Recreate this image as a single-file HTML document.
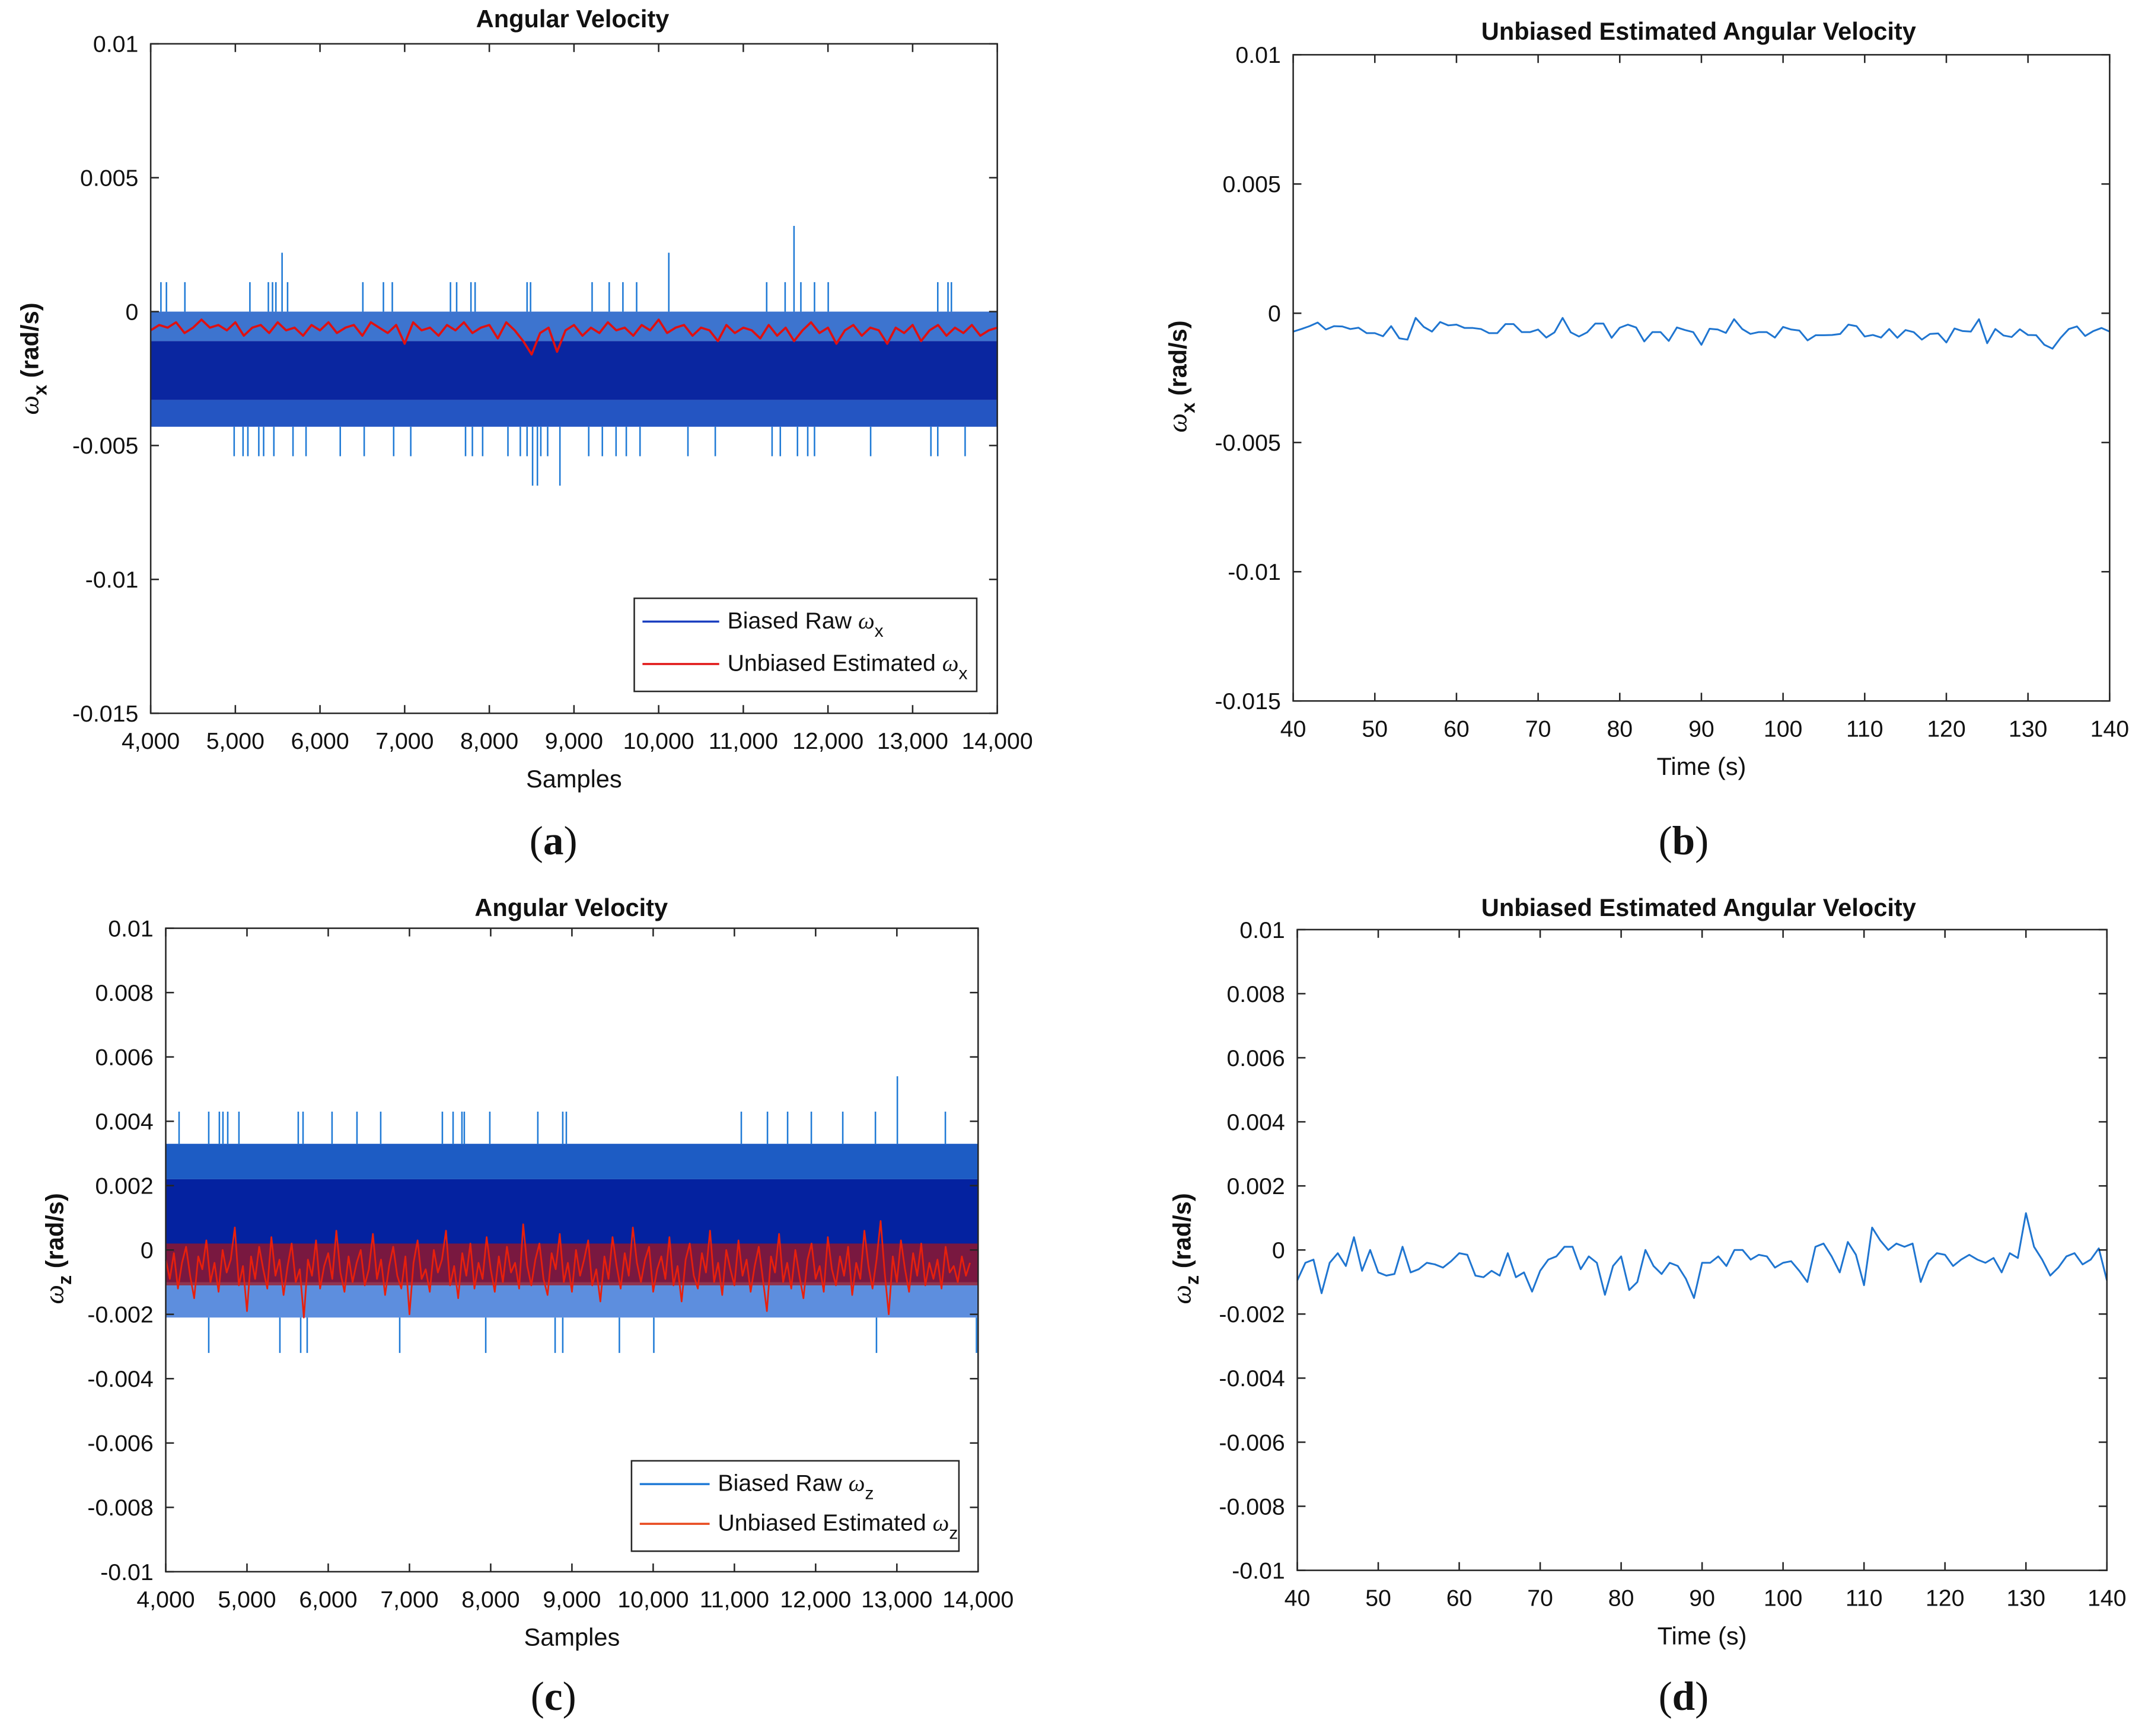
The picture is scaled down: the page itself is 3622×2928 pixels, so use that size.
<!DOCTYPE html>
<html><head><meta charset="utf-8">
<style>
html,body{margin:0;padding:0;background:#fff;}
svg{display:block;}
text{font-family:"Liberation Sans",Arial,sans-serif;fill:#111;}
</style></head>
<body>
<svg id="fig" width="3622" height="2928" viewBox="0 0 1568 1268" preserveAspectRatio="none" xmlns="http://www.w3.org/2000/svg">
</svg>
<script>
// ---------- DATA ----------
const aYTicks = [0.01, 0.005, 0, -0.005, -0.01, -0.015];
const aYTickLabels = ["0.01", "0.005", "0", "-0.005", "-0.01", "-0.015"];
const cYTicks = [0.01, 0.008, 0.006, 0.004, 0.002, 0, -0.002, -0.004, -0.006, -0.008, -0.01];
const cYTickLabels = ["0.01", "0.008", "0.006", "0.004", "0.002", "0", "-0.002", "-0.004", "-0.006", "-0.008", "-0.01"];
const sampleTicks = [4000, 5000, 6000, 7000, 8000, 9000, 10000, 11000, 12000, 13000, 14000];
const sampleTickLabels = ["4,000", "5,000", "6,000", "7,000", "8,000", "9,000", "10,000", "11,000", "12,000", "13,000", "14,000"];
const timeTicks = [40, 50, 60, 70, 80, 90, 100, 110, 120, 130, 140];
const timeTickLabels = ["40", "50", "60", "70", "80", "90", "100", "110", "120", "130", "140"];

const aBandTop = [0, -0.0011, -0.0033];
const aBandBottom = [-0.0011, -0.0033, -0.0043];
const aBandColor = ["#3d74cf", "#0a26a0", "#2455c2"];
const aSpikeUpSamples = [4121, 4186, 4404, 5172, 5390, 5439, 5479, 5617, 6506, 6749, 6854, 7541, 7614, 7783, 7832, 8446, 8487, 9214, 9416, 9578, 9740, 11276, 11494, 11680, 11841, 12003, 13297, 13418, 13458];
const aSpikeUpValues = [0.0011, 0.0011, 0.0011, 0.0011, 0.0011, 0.0011, 0.0011, 0.0011, 0.0011, 0.0011, 0.0011, 0.0011, 0.0011, 0.0011, 0.0011, 0.0011, 0.0011, 0.0011, 0.0011, 0.0011, 0.0011, 0.0011, 0.0011, 0.0011, 0.0011, 0.0011, 0.0011, 0.0011, 0.0011];
const aBigUpSamples = [5552, 10120, 11599];
const aBigUpValues = [0.0022, 0.0022, 0.0032];
const aSpikeDownSamples = [4986, 5091, 5148, 5277, 5334, 5455, 5681, 5835, 6239, 6522, 6870, 7072, 7719, 7800, 7921, 8220, 8366, 8446, 8608, 8689, 9174, 9335, 9497, 9618, 9780, 10346, 10669, 11340, 11437, 11640, 11761, 11841, 12504, 13216, 13297, 13620, 8511, 8568, 8834];
const aSpikeDownValues = [-0.0054, -0.0054, -0.0054, -0.0054, -0.0054, -0.0054, -0.0054, -0.0054, -0.0054, -0.0054, -0.0054, -0.0054, -0.0054, -0.0054, -0.0054, -0.0054, -0.0054, -0.0054, -0.0054, -0.0054, -0.0054, -0.0054, -0.0054, -0.0054, -0.0054, -0.0054, -0.0054, -0.0054, -0.0054, -0.0054, -0.0054, -0.0054, -0.0054, -0.0054, -0.0054, -0.0054, -0.0065, -0.0065, -0.0065];
const aEstValues = [-0.0007,-0.0005,-0.0006,-0.0004,-0.0008,-0.0006,-0.0003,-0.0006,-0.0005,-0.0007,-0.0004,-0.0009,-0.0006,-0.0005,-0.0008,-0.0004,-0.0007,-0.0006,-0.0009,-0.0005,-0.0007,-0.0004,-0.0008,-0.0006,-0.0005,-0.0009,-0.0004,-0.0006,-0.0008,-0.0005,-0.0012,-0.0004,-0.0007,-0.0006,-0.0009,-0.0005,-0.0007,-0.0004,-0.0008,-0.0006,-0.0005,-0.0010,-0.0004,-0.0007,-0.0011,-0.0016,-0.0008,-0.0006,-0.0015,-0.0007,-0.0005,-0.0009,-0.0006,-0.0008,-0.0004,-0.0007,-0.0006,-0.0009,-0.0005,-0.0007,-0.0003,-0.0008,-0.0006,-0.0005,-0.0009,-0.0006,-0.0007,-0.0011,-0.0005,-0.0008,-0.0006,-0.0007,-0.0010,-0.0005,-0.0009,-0.0006,-0.0011,-0.0007,-0.0004,-0.0008,-0.0006,-0.0012,-0.0007,-0.0005,-0.0009,-0.0006,-0.0007,-0.0012,-0.0006,-0.0008,-0.0005,-0.0011,-0.0007,-0.0005,-0.0009,-0.0006,-0.0008,-0.0005,-0.0009,-0.0007,-0.0006];

const bTimes = [40,41,42,43,44,45,46,47,48,49,50,51,52,53,54,55,56,57,58,59,60,61,62,63,64,65,66,67,68,69,70,71,72,73,74,75,76,77,78,79,80,81,82,83,84,85,86,87,88,89,90,91,92,93,94,95,96,97,98,99,100,101,102,103,104,105,106,107,108,109,110,111,112,113,114,115,116,117,118,119,120,121,122,123,124,125,126,127,128,129,130,131,132,133,134,135,136,137,138,139,140];
const bValues = [-0.00071,-0.00061,-0.0005,-0.00036,-0.00063,-0.0005,-0.00051,-0.00061,-0.00056,-0.00077,-0.00077,-0.00089,-0.0005,-0.00097,-0.00102,-0.00018,-0.00053,-0.00071,-0.00034,-0.00047,-0.00044,-0.00057,-0.00057,-0.00061,-0.00077,-0.00077,-0.00042,-0.00042,-0.00073,-0.00073,-0.00063,-0.00094,-0.00074,-0.00018,-0.00074,-0.0009,-0.00074,-0.0004,-0.0004,-0.00095,-0.00056,-0.00044,-0.00055,-0.00109,-0.00073,-0.00073,-0.00107,-0.00055,-0.00065,-0.00073,-0.00122,-0.0006,-0.00063,-0.00076,-0.00023,-0.00061,-0.0008,-0.00073,-0.00073,-0.00094,-0.00053,-0.00063,-0.00067,-0.00105,-0.00085,-0.00085,-0.00084,-0.0008,-0.00044,-0.0005,-0.0009,-0.00084,-0.00094,-0.00061,-0.00095,-0.00065,-0.00073,-0.00102,-0.0008,-0.00078,-0.00113,-0.00059,-0.00069,-0.00071,-0.00023,-0.00116,-0.00061,-0.00086,-0.00092,-0.00062,-0.00084,-0.00085,-0.00122,-0.00137,-0.00095,-0.00061,-0.00051,-0.00088,-0.00069,-0.00057,-0.00071];

const cBandTop = [0.0033, 0.0022, -0.0010];
const cBandBottom = [0.0022, -0.0010, -0.0021];
const cBandColor = ["#1d5cc4", "#0422a0", "#5d8ede"];
const cSpikeUpSamples = [4164,4529,4660,4704,4763,4901,5631,5690,6047,6354,6646,7405,7537,7646,7675,7989,8580,8887,8931,11085,11407,11655,11947,12334,12736,13597];
const cSpikeUpValues = [0.0043,0.0043,0.0043,0.0043,0.0043,0.0043,0.0043,0.0043,0.0043,0.0043,0.0043,0.0043,0.0043,0.0043,0.0043,0.0043,0.0043,0.0043,0.0043,0.0043,0.0043,0.0043,0.0043,0.0043,0.0043,0.0043];
const cBigUpSamples = [13006];
const cBigUpValues = [0.0054];
const cSpikeDownSamples = [4529,5405,5661,5741,6880,7939,8887,8793,9584,10008,12749,13980];
const cSpikeDownValues = [-0.0032,-0.0032,-0.0032,-0.0032,-0.0032,-0.0032,-0.0032,-0.0032,-0.0032,-0.0032,-0.0032,-0.0032];
const cEstValues = [-0.0003,-0.0009,-0.0001,-0.0012,-0.0004,0.0001,-0.0008,-0.0015,-0.0002,-0.0006,0.0003,-0.0010,-0.0004,-0.0013,0.0000,-0.0007,-0.0003,0.0007,-0.0011,-0.0005,-0.0019,-0.0002,-0.0009,0.0001,-0.0006,-0.0012,0.0004,-0.0008,-0.0003,-0.0014,-0.0005,0.0002,-0.0010,-0.0006,-0.0021,-0.0003,-0.0008,0.0003,-0.0012,-0.0005,-0.0001,-0.0009,0.0006,-0.0007,-0.0013,-0.0002,-0.0010,-0.0004,0.0000,-0.0011,-0.0006,0.0005,-0.0009,-0.0003,-0.0014,-0.0005,0.0001,-0.0008,-0.0012,-0.0002,-0.0020,-0.0004,0.0003,-0.0009,-0.0006,-0.0013,0.0000,-0.0007,-0.0003,0.0006,-0.0011,-0.0005,-0.0015,-0.0001,-0.0008,0.0002,-0.0012,-0.0004,-0.0009,0.0004,-0.0006,-0.0013,-0.0002,-0.0010,0.0001,-0.0007,-0.0004,-0.0012,0.0008,-0.0005,-0.0011,-0.0003,0.0002,-0.0009,-0.0014,-0.0001,-0.0006,0.0005,-0.0010,-0.0004,-0.0013,0.0000,-0.0008,-0.0003,0.0003,-0.0011,-0.0006,-0.0016,-0.0002,-0.0009,0.0004,-0.0005,-0.0012,-0.0001,-0.0008,0.0007,-0.0004,-0.0010,-0.0003,0.0001,-0.0013,-0.0006,-0.0002,-0.0009,0.0004,-0.0011,-0.0005,-0.0016,-0.0003,0.0002,-0.0008,-0.0012,-0.0001,-0.0007,0.0006,-0.0010,-0.0004,-0.0014,0.0000,-0.0006,-0.0011,0.0003,-0.0008,-0.0003,-0.0013,-0.0005,0.0001,-0.0009,-0.0019,-0.0002,-0.0007,0.0005,-0.0010,-0.0004,-0.0012,0.0000,-0.0008,-0.0015,-0.0003,0.0002,-0.0009,-0.0005,-0.0013,0.0004,-0.0006,-0.0011,-0.0002,-0.0008,0.0001,-0.0014,-0.0004,-0.0009,0.0006,-0.0005,-0.0012,-0.0003,0.0009,-0.0007,-0.0020,-0.0002,-0.0010,0.0003,-0.0006,-0.0013,-0.0001,-0.0008,0.0002,-0.0011,-0.0004,-0.0009,-0.0003,-0.0012,0.0001,-0.0007,-0.0005,-0.0010,-0.0002,-0.0008,-0.0004];

const dTimes = bTimes;
const dValues = [-0.00095,-0.0004,-0.0003,-0.00135,-0.0004,-0.0001,-0.0005,0.0004,-0.00065,0,-0.0007,-0.0008,-0.00075,0.0001,-0.0007,-0.0006,-0.0004,-0.00045,-0.00055,-0.00035,-0.0001,-0.00015,-0.0008,-0.00085,-0.00065,-0.0008,-0.0001,-0.00085,-0.0007,-0.0013,-0.00065,-0.0003,-0.0002,0.0001,0.0001,-0.0006,-0.0002,-0.0004,-0.0014,-0.0005,-0.0002,-0.00125,-0.001,0,-0.0005,-0.00075,-0.0004,-0.0005,-0.0009,-0.0015,-0.0004,-0.0004,-0.0002,-0.0005,0,0,-0.0003,-0.00015,-0.0002,-0.00055,-0.0004,-0.00035,-0.00065,-0.001,0.0001,0.0002,-0.0002,-0.0007,0.00025,-0.00015,-0.0011,0.0007,0.0003,0,0.0002,0.0001,0.0002,-0.001,-0.00035,-0.0001,-0.00015,-0.0005,-0.0003,-0.00015,-0.0003,-0.0004,-0.00025,-0.0007,-0.0001,-0.00025,0.00115,0.0001,-0.0003,-0.0008,-0.00055,-0.0002,-0.0001,-0.00045,-0.0003,0.00005,-0.00095];

// ---------- RENDER ----------
const NS = "http://www.w3.org/2000/svg";
const svg = document.getElementById("fig");
const SERIF = "font-family:'Liberation Serif',serif;";
function mk(tag, attrs, parent) {
  const e = document.createElementNS(NS, tag);
  for (const k in attrs) e.setAttribute(k, attrs[k]);
  (parent || svg).appendChild(e);
  return e;
}
function axes(cfg) {
  const g = mk("g", {});
  
  
  const xs = v => cfg.x0 + (v - cfg.xmin) / (cfg.xmax - cfg.xmin) * (cfg.x1 - cfg.x0);
  const ys = v => cfg.y0 + (cfg.ymax - v) / (cfg.ymax - cfg.ymin) * (cfg.y1 - cfg.y0);
  cfg.g = g; cfg.xs = xs; cfg.ys = ys;
  return cfg;
}
function frame(cfg) {
  const g = cfg.g;
  const box = mk("rect", {x: cfg.x0, y: cfg.y0, width: cfg.x1 - cfg.x0, height: cfg.y1 - cfg.y0, fill: "none", stroke: "#262626", "stroke-width": 1.1}, g);
  
  
  cfg.yTicks.forEach((v, i) => {
    const y = cfg.ys(v);
    mk("line", {x1: cfg.x0, x2: cfg.x0 + 6, y1: y, y2: y, stroke: "#262626", "stroke-width": 1.1}, g);
    mk("line", {x1: cfg.x1, x2: cfg.x1 - 6, y1: y, y2: y, stroke: "#262626", "stroke-width": 1.1}, g);
    const t = mk("text", {x: cfg.x0 - 9, y: y + 6, "text-anchor": "end", "font-size": 17}, g);
    t.textContent = cfg.yLabels[i];
    
    
  });
  cfg.xTicks.forEach((v, i) => {
    const x = cfg.xs(v);
    mk("line", {x1: x, x2: x, y1: cfg.y1, y2: cfg.y1 - 6, stroke: "#262626", "stroke-width": 1.1}, g);
    mk("line", {x1: x, x2: x, y1: cfg.y0, y2: cfg.y0 + 6, stroke: "#262626", "stroke-width": 1.1}, g);
    const t = mk("text", {x: x, y: cfg.y1 + 26, "text-anchor": "middle", "font-size": 17}, g);
    t.textContent = cfg.xLabels[i];
    
    
  });
  const title = mk("text", {x: cfg.titleX, y: cfg.titleY, "text-anchor": "middle", "font-size": 18, "font-weight": "bold"}, g);
  title.textContent = cfg.title;
  
  
  const xl = mk("text", {x: (cfg.x0 + cfg.x1) / 2, y: cfg.y1 + 54, "text-anchor": "middle", "font-size": 18}, g);
  xl.textContent = cfg.xTitle;
  
  
  const yl = mk("text", {transform: `translate(${cfg.yTitleX},${cfg.yTitleY}) rotate(-90)`, "text-anchor": "middle", "font-size": 18, "font-weight": "bold"}, g);
  
  
  const w = mk("tspan", {style: SERIF + "font-style:italic;font-weight:normal;font-size:20px"}, yl); w.textContent = "ω";
  const s = mk("tspan", {dy: 6, "font-size": 14}, yl); s.textContent = cfg.sub;
  const r = mk("tspan", {dy: -6}, yl); r.textContent = " (rad/s)";
  const cap = mk("text", {x: cfg.capX, y: cfg.capY, "text-anchor": "middle", "font-size": 30, style: SERIF}, g);
  
  
  const c1 = mk("tspan", {}, cap); c1.textContent = "(";
  const c2 = mk("tspan", {"font-weight": "bold"}, cap); c2.textContent = cfg.cap;
  const c3 = mk("tspan", {}, cap); c3.textContent = ")";
}
function rawSignal(cfg, tops, bottoms, colors, upS, upV, bigS, bigV, dnS, dnV, spikeColor, base) {
  const g = cfg.g;
  tops.forEach((t, i) => {
    const r = mk("rect", {x: cfg.x0, y: cfg.ys(t), width: cfg.x1 - cfg.x0, height: cfg.ys(bottoms[i]) - cfg.ys(t), fill: colors[i]}, g);
    
    
  });
  const spikes = (S, V, from) => S.forEach((s, i) => {
    const x = cfg.xs(s);
    const l = mk("line", {x1: x, x2: x, y1: cfg.ys(from(V[i])), y2: cfg.ys(V[i]), stroke: spikeColor, "stroke-width": 1.1}, g);
    
    
  });
  spikes(upS, upV, () => base.up);
  spikes(bigS, bigV, () => base.up);
  spikes(dnS, dnV, () => base.down);
}
function line(cfg, xsArr, vals, color, width, name) {
  const pts = vals.map((v, i) => cfg.xs(xsArr[i]).toFixed(2) + "," + cfg.ys(v).toFixed(2)).join(" ");
  const p = mk("polyline", {points: pts, fill: "none", stroke: color, "stroke-width": width, "stroke-linejoin": "round"}, cfg.g);
  
  
}
function legend(cfg, L) {
  const g = mk("g", {}, cfg.g);
  
  
  mk("rect", {x: L.x, y: L.y, width: L.w, height: L.h, fill: "#fff", stroke: "#262626", "stroke-width": 1.1}, g);
  L.items.forEach((it, i) => {
    const yy = L.y + L.rows[i];
    const ln = mk("line", {x1: L.x + 6, x2: L.x + L.lineW, y1: yy, y2: yy, stroke: it.color, "stroke-width": 1.5}, g);
    
    
    const t = mk("text", {x: L.x + L.lineW + 6, y: yy + 5, "font-size": 17}, g);
    
    
    const a = mk("tspan", {}, t); a.textContent = it.label + " ";
    const w = mk("tspan", {style: SERIF + "font-style:italic"}, t); w.textContent = "ω";
    const s = mk("tspan", {dy: 6, "font-size": 13}, t); s.textContent = it.sub;
  });
}

const A = axes({name: "panel-a-chart", x0: 110, x1: 728, y0: 32, y1: 521, xmin: 4000, xmax: 14000, ymin: -0.015, ymax: 0.01});
rawSignal(A, aBandTop, aBandBottom, aBandColor, aSpikeUpSamples, aSpikeUpValues, aBigUpSamples, aBigUpValues, aSpikeDownSamples, aSpikeDownValues, "#1f7ad6", {up: 0, down: -0.0043});
line(A, aEstValues.map((_, i) => 4000 + i * 100), aEstValues, "#e01010", 1.6, "unbiased-estimated-line");
Object.assign(A, {yTicks: aYTicks, yLabels: aYTickLabels, xTicks: sampleTicks, xLabels: sampleTickLabels, title: "Angular Velocity", titleX: 418, titleY: 20, xTitle: "Samples", yTitleX: 28, yTitleY: 262, sub: "x", capX: 404, capY: 624, cap: "a"});
frame(A);
legend(A, {x: 463, y: 437, w: 250, h: 68, lineW: 62, rows: [17, 48], items: [{label: "Biased Raw", sub: "x", color: "#1a3fc0"}, {label: "Unbiased Estimated", sub: "x", color: "#e01010"}]});

const B = axes({name: "panel-b-chart", x0: 944, x1: 1540, y0: 40, y1: 512, xmin: 40, xmax: 140, ymin: -0.015, ymax: 0.01});
line(B, bTimes, bValues, "#1f75d0", 1.3, "unbiased-estimated-line");
Object.assign(B, {yTicks: aYTicks, yLabels: aYTickLabels, xTicks: timeTicks, xLabels: timeTickLabels, title: "Unbiased Estimated Angular Velocity", titleX: 1240, titleY: 29, xTitle: "Time (s)", yTitleX: 866, yTitleY: 275, sub: "x", capX: 1229, capY: 624, cap: "b"});
frame(B);

const C = axes({name: "panel-c-chart", x0: 121, x1: 714, y0: 678, y1: 1148, xmin: 4000, xmax: 14000, ymin: -0.01, ymax: 0.01});
rawSignal(C, cBandTop, cBandBottom, cBandColor, cSpikeUpSamples, cSpikeUpValues, cBigUpSamples, cBigUpValues, cSpikeDownSamples, cSpikeDownValues, "#1f7ad6", {up: 0.0033, down: -0.0021});
const redBand = mk("rect", {x: C.x0, y: C.ys(0.0002), width: C.x1 - C.x0, height: C.ys(-0.0011) - C.ys(0.0002), fill: "#a01620", opacity: 0.75}, C.g);


line(C, cEstValues.map((_, i) => 4000 + i * 50), cEstValues, "#e8200c", 1.2, "unbiased-estimated-line");
Object.assign(C, {yTicks: cYTicks, yLabels: cYTickLabels, xTicks: sampleTicks, xLabels: sampleTickLabels, title: "Angular Velocity", titleX: 417, titleY: 669, xTitle: "Samples", yTitleX: 46, yTitleY: 912, sub: "z", capX: 404, capY: 1249, cap: "c"});
frame(C);
legend(C, {x: 461, y: 1067, w: 239, h: 66, lineW: 57, rows: [17, 46], items: [{label: "Biased Raw", sub: "z", color: "#1f7ad6"}, {label: "Unbiased Estimated", sub: "z", color: "#e8481c"}]});

const D = axes({name: "panel-d-chart", x0: 947, x1: 1538, y0: 679, y1: 1147, xmin: 40, xmax: 140, ymin: -0.01, ymax: 0.01});
line(D, dTimes, dValues, "#1f75d0", 1.3, "unbiased-estimated-line");
Object.assign(D, {yTicks: cYTicks, yLabels: cYTickLabels, xTicks: timeTicks, xLabels: timeTickLabels, title: "Unbiased Estimated Angular Velocity", titleX: 1240, titleY: 669, xTitle: "Time (s)", yTitleX: 869, yTitleY: 912, sub: "z", capX: 1229, capY: 1249, cap: "d"});
frame(D);
</script>
</body></html>
